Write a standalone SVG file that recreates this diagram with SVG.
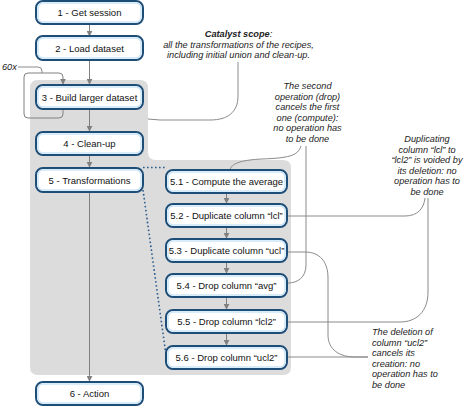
<svg xmlns="http://www.w3.org/2000/svg" width="474" height="407" viewBox="0 0 474 407">
<defs>
<style>
.box{fill:#ffffff;stroke:#1e4d78;stroke-width:2}
.glow{fill:none;stroke:#cde6f7;stroke-width:1.5}
.lbl{font-family:"Liberation Sans",Arial,sans-serif;font-size:9.5px;fill:#111;text-anchor:middle}
.note{font-family:"Liberation Sans",Arial,sans-serif;font-size:9.2px;font-style:italic;fill:#222}
.ln{fill:none;stroke:#8a8a8a;stroke-width:1}
.arr{fill:none;stroke:#808080;stroke-width:1;marker-end:url(#ah)}
.dot{fill:none;stroke:#2b5c8c;stroke-width:1.6;stroke-dasharray:1.6 2.4}
</style>
<marker id="ah" viewBox="0 0 8 8" refX="7" refY="4" markerWidth="6" markerHeight="6" markerUnits="userSpaceOnUse" orient="auto">
<path d="M0,0 L8,4 L0,8 Z" fill="#808080"/>
</marker>
</defs>
<rect width="474" height="407" fill="#ffffff"/>
<g id="scope">
<path d="M38,80 H140 Q148,80 148,88 V152 Q148,160 156,160 H283 Q291,160 291,168 V367 Q291,375 283,375 H38 Q30,375 30,367 V88 Q30,80 38,80 Z" fill="#dcdcdc"/>
</g>
<g id="connectors">
<line class="arr" x1="89.5" y1="24" x2="89.5" y2="36"/>
<line class="arr" x1="89.5" y1="60" x2="89.5" y2="84"/>
<line class="arr" x1="89.5" y1="109" x2="89.5" y2="131"/>
<line class="arr" x1="89.5" y1="155" x2="89.5" y2="167"/>
<line class="arr" x1="89.5" y1="192" x2="89.5" y2="381"/>
<line class="arr" x1="226.5" y1="193" x2="226.5" y2="203"/>
<line class="arr" x1="226.5" y1="227" x2="226.5" y2="238"/>
<line class="arr" x1="226.5" y1="262" x2="226.5" y2="273"/>
<line class="arr" x1="226.5" y1="297" x2="226.5" y2="309"/>
<line class="arr" x1="226.5" y1="333" x2="226.5" y2="345"/>
<path class="arr" d="M63,109 V114 Q63,118 59,118 H28 Q24,118 24,114 V77 Q24,73 28,73 H59 Q63,73 63,77 V84"/>
<path class="ln" d="M18,67 H38 Q42,67 42,71 V73"/>
<path class="dot" d="M143,167.5 H166"/>
<path class="dot" d="M143,190 L166,355"/>
<path class="ln" d="M148,119 L160,120 H210 C228,120 238,112 238,96 V62"/>
<path class="ln" d="M301,146 C298,156 288,158 262,159 C240,160 231,164 230,170"/>
<path class="ln" d="M306,146 V265 C306,277 298,283 288,283"/>
<path class="ln" d="M288,216 H405 C418,216 424,208 425,198"/>
<path class="ln" d="M428,198 V292 C428,312 416,322 400,322 H288"/>
<path class="ln" d="M288,252 H305 C320,252 328,262 328,278 V335 C328,350 340,357 355,357 H368"/>
<path class="ln" d="M288,357 H368"/>
</g>
<g id="n1"><rect class="box" x="36" y="1" width="107" height="23" rx="7"/><rect class="glow" x="38" y="3" width="103" height="19" rx="5"/><text class="lbl" x="89.5" y="15.5">1 - Get session</text></g>
<g id="n2"><rect class="box" x="36" y="36" width="107" height="24" rx="7"/><rect class="glow" x="38" y="38" width="103" height="20" rx="5"/><text class="lbl" x="89.5" y="51.5">2 - Load dataset</text></g>
<g id="n3"><rect class="box" x="36" y="85" width="107" height="24" rx="7"/><rect class="glow" x="38" y="87" width="103" height="20" rx="5"/><text class="lbl" x="89.5" y="100.5">3 - Build larger dataset</text></g>
<g id="n4"><rect class="box" x="36" y="132" width="107" height="23" rx="7"/><rect class="glow" x="38" y="134" width="103" height="19" rx="5"/><text class="lbl" x="89.5" y="147">4 - Clean-up</text></g>
<g id="n5"><rect class="box" x="36" y="168" width="107" height="24" rx="7"/><rect class="glow" x="38" y="170" width="103" height="20" rx="5"/><text class="lbl" x="89.5" y="183.5">5 - Transformations</text></g>
<g id="n6"><rect class="box" x="36" y="382" width="107" height="23" rx="7"/><rect class="glow" x="38" y="384" width="103" height="19" rx="5"/><text class="lbl" x="89.5" y="397">6 - Action</text></g>
<g id="n51"><rect class="box" x="166" y="170" width="121" height="23" rx="7"/><rect class="glow" x="168" y="172" width="117" height="19" rx="5"/><text class="lbl" x="226.5" y="184.5">5.1 - Compute the average</text></g>
<g id="n52"><rect class="box" x="166" y="204" width="121" height="23" rx="7"/><rect class="glow" x="168" y="206" width="117" height="19" rx="5"/><text class="lbl" x="226.5" y="218.5">5.2 - Duplicate column “lcl”</text></g>
<g id="n53"><rect class="box" x="166" y="239" width="121" height="23" rx="7"/><rect class="glow" x="168" y="241" width="117" height="19" rx="5"/><text class="lbl" x="226.5" y="253.5">5.3 - Duplicate column “ucl”</text></g>
<g id="n54"><rect class="box" x="166" y="274" width="121" height="23" rx="7"/><rect class="glow" x="168" y="276" width="117" height="19" rx="5"/><text class="lbl" x="226.5" y="288.5">5.4 - Drop column “avg”</text></g>
<g id="n55"><rect class="box" x="166" y="310" width="121" height="23" rx="7"/><rect class="glow" x="168" y="312" width="117" height="19" rx="5"/><text class="lbl" x="226.5" y="324.5">5.5 - Drop column “lcl2”</text></g>
<g id="n56"><rect class="box" x="166" y="346" width="121" height="23" rx="7"/><rect class="glow" x="168" y="348" width="117" height="19" rx="5"/><text class="lbl" x="226.5" y="360.5">5.6 - Drop column “ucl2”</text></g>
<g id="loop-label"><text class="note" x="2" y="70">60x</text></g>
<g id="note-catalyst">
<text class="note" text-anchor="middle" x="238.5" y="37"><tspan font-weight="bold">Catalyst scope</tspan>:</text>
<text class="note" text-anchor="middle" x="238.5" y="47.5">all the transformations of the recipes,</text>
<text class="note" text-anchor="middle" x="238.5" y="58">including initial union and clean-up.</text>
</g>
<g id="note-cancel">
<text class="note" text-anchor="middle" x="307.5" y="89">The second</text>
<text class="note" text-anchor="middle" x="307.5" y="99.5">operation (drop)</text>
<text class="note" text-anchor="middle" x="307.5" y="110">cancels the first</text>
<text class="note" text-anchor="middle" x="307.5" y="120.5">one (compute):</text>
<text class="note" text-anchor="middle" x="307.5" y="131">no operation has</text>
<text class="note" text-anchor="middle" x="307.5" y="141.5">to be done</text>
</g>
<g id="note-duplicate">
<text class="note" text-anchor="middle" x="427" y="142">Duplicating</text>
<text class="note" text-anchor="middle" x="427" y="152.5">column “lcl” to</text>
<text class="note" text-anchor="middle" x="427" y="163">“lcl2” is voided by</text>
<text class="note" text-anchor="middle" x="427" y="173.5">its deletion: no</text>
<text class="note" text-anchor="middle" x="427" y="184">operation has to</text>
<text class="note" text-anchor="middle" x="427" y="194.5">be done</text>
</g>
<g id="note-deletion">
<text class="note" x="372" y="335">The deletion of</text>
<text class="note" x="372" y="345.6">column “ucl2”</text>
<text class="note" x="372" y="356.2">cancels its</text>
<text class="note" x="372" y="366.8">creation: no</text>
<text class="note" x="372" y="377.4">operation has to</text>
<text class="note" x="372" y="388">be done</text>
</g>
</svg>
